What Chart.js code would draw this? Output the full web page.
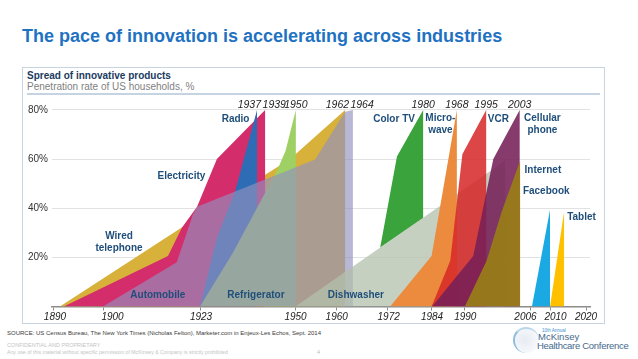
<!DOCTYPE html>
<html>
<head>
<meta charset="utf-8">
<script src="https://cdn.jsdelivr.net/npm/chart.js@4.4.1/dist/chart.umd.min.js"></script>
<style>
  body { margin: 0; width: 638px; height: 359px; position: relative; overflow: hidden; background: #fff;
         font-family: 'Liberation Sans', Arial, sans-serif; }
  .abs { position: absolute; white-space: nowrap; }
  #title { left: 22px; top: 27px; font-size: 18px; line-height: 18px; font-weight: bold; color: #1f72c2; }
  #frame { left: 22px; top: 67px; width: 581px; height: 255px; border: 1px solid #c8d4e0; }
  #head1 { left: 27px; top: 70.5px; font-size: 10px; line-height: 10px; font-weight: bold; color: #1b3b5f; }
  #head2 { left: 27px; top: 81.5px; font-size: 10px; line-height: 10px; color: #7f7f7f; }
  #rule { left: 27px; top: 93px; width: 573px; height: 2px; background: #c6d3e0; }
  #wrap { left: 22px; top: 95px; width: 582px; height: 228px; }
  #source { left: 7px; top: 330px; font-size: 6px; line-height: 6px; color: #3a3a3a; }
  #conf1 { left: 7px; top: 341.5px; font-size: 5.5px; line-height: 6px; color: #c4c4c4; }
  #conf2 { left: 7px; top: 348.5px; font-size: 5.2px; line-height: 6px; color: #c4c4c4; }
  #page { left: 317px; top: 348.5px; font-size: 5.5px; line-height: 6px; color: #bbb; }
  #globe { left: 513px; top: 327px; width: 24px; height: 24px; border-radius: 50%;
           border-left: 2px solid #8fbde0; border-top: 2px solid #b9d6ec;
           background: radial-gradient(circle at 40% 45%, #e6ecf3 0%, #f4f6f9 60%, #fff 100%); }
  #annual { left: 542px; top: 327.5px; font-size: 6px; line-height: 6px; color: #3b8fd2; transform: scale(0.75); transform-origin: left top; }
  #mck1 { left: 538px; top: 332px; font-size: 9.5px; line-height: 9.5px; color: #46698d; }
  #mck2 { left: 537px; top: 341px; font-size: 9.5px; line-height: 9.5px; color: #46698d; letter-spacing: -0.3px; }
</style>
</head>
<body>
<div class="abs" id="title">The pace of innovation is accelerating across industries</div>
<div class="abs" id="frame"></div>
<div class="abs" id="head1">Spread of innovative products</div>
<div class="abs" id="head2">Penetration rate of US households, %</div>
<div class="abs" id="rule"></div>
<div class="abs" id="wrap"><canvas id="adoption" width="582" height="228"></canvas></div>
<div class="abs" id="source">SOURCE: US Census Bureau, The New York Times (Nicholas Felton), Marketer.com in Enjeux-Les Echos, Sept. 2014</div>
<div class="abs" id="conf1">CONFIDENTIAL AND PROPRIETARY</div>
<div class="abs" id="conf2">Any use of this material without specific permission of McKinsey &amp; Company is strictly prohibited</div>
<div class="abs" id="page">4</div>
<div class="abs" id="globe"></div>
<div class="abs" id="annual">10th Annual</div>
<div class="abs" id="mck1">McKinsey</div>
<div class="abs" id="mck2">Healthcare Conference</div>

<script>
// axis ticks
const xTicks = [1890, 1900, 1923, 1950, 1960, 1972, 1984, 1990, 2006, 2010, 2020];
const yTicks = [20, 40, 60, 80];

// outline of each product, [year, % of US households], back to front
const telephone = [[1891.2, 0], [1918.3, 31.7], [1948.6, 60], [1962.1, 80], [1962.1, 0]];
const electricity = [[1892, 0], [1915.4, 20.6], [1918.7, 32], [1922.3, 40.6], [1927.8, 60], [1941.5, 80], [1941.5, 0]];
const radio = [[1923, 0], [1927.8, 28], [1933, 47], [1939.2, 80], [1939.2, 0]];
const refrigerator = [[1923, 0], [1932.4, 22], [1944.9, 55.3], [1947.3, 63.3], [1950.2, 80], [1950.2, 0]];
const automobile = [[1900, 0], [1917.5, 18], [1921.3, 37.3], [1922.3, 40.6], [1954.9, 59.8], [1962.1, 79.3], [1963.9, 80], [1963.9, 0]];
const colorTv = [[1970.2, 24], [1974.5, 61], [1981.8, 80], [1981.8, 36]];
const dishwasher = [[1950.1, 0], [1999.8, 59.3], [1999.8, 0]];
const microwave = [[1972.6, 0], [1984.1, 20.6], [1988.7, 80], [1988.7, 0]];
const vcr = [[1984.1, 0], [1987.5, 18.6], [1989.7, 62], [1995.3, 80], [1995.3, 0]];
const cellular = [[1984.2, 0], [1992.2, 20.6], [1997, 60], [2003.3, 80], [2003.3, 0]];
const internet = [[1990.2, 0], [1995.4, 18.6], [1999, 38.6], [2003.4, 59.3], [2003.4, 0]];
const facebook = [[2006.2, 0], [2010, 39.4], [2010, 0]];
const tablet = [[2010, 0], [2013.9, 38.6], [2013.9, 0]];

const productNames = ['Wired telephone', 'Electricity', 'Radio', 'Refrigerator', 'Automobile', 'Color TV',
  'Dishwasher', 'Microwave', 'VCR', 'Cellular phone', 'Internet', 'Facebook', 'Tablet'];
const productShapes = [telephone, electricity, radio, refrigerator, automobile, colorTv,
  dishwasher, microwave, vcr, cellular, internet, facebook, tablet];
// year printed above each peak
const yearAt80 = ['1962', '1939', '1937', '1950', '1964', '1980', '', '1968', '1995', '2003', '', '', ''];

// ---- styling / layout ----
const fills = ['#d8b13a', '#d42d6c', '#2e6db5', '#9fd063', 'rgba(148,145,192,0.65)', '#3aa33c',
  'rgba(178,192,172,0.75)', '#ec8b3e', 'rgba(214,40,40,0.86)', 'rgba(118,32,88,0.88)',
  'rgba(152,123,26,0.96)', '#1aa9e2', '#ffc000'];
const peakAlign = ['right', 'left', 'right', 'center', 'left', 'center', '', 'center', 'center', 'center', '', '', ''];
// label text and where it sits, in [year, %]
const nameLines = [['Wired', 'telephone'], ['Electricity'], ['Radio'], ['Refrigerator'], ['Automobile'], ['Color TV'],
  ['Dishwasher'], ['Micro-', 'wave'], ['VCR'], ['Cellular', 'phone'], ['Internet'], ['Facebook'], ['Tablet']];
const nameAt = [[1903.8, 26], [1918.6, 53.2], [1933.1, 76.2], [1938.9, 4.6], [1913, 4.6], [1973.7, 76.4],
  [1964.6, 4.6], [1985.7, 74], [1998.2, 76.4], [2008.4, 74], [2008.5, 55.6], [2009.2, 46.8], [2018.75, 36.2]];
// tick labels are not all centred on their ticks in the source (px)
const tickNudge = [1, 9.5, 1, 0.5, 0.7, 0.7, 1, 1.3, -5.5, 5.5, 0];

// the source axis is not evenly spaced: share of the axis width where each tick sits
const tickShare = [0.0037, 0.0948, 0.2751, 0.4517, 0.5279, 0.6245, 0.7045, 0.7658, 0.8903, 0.9257, 0.9926];

function yearToShare(v) {
  let i = 0;
  while (i < xTicks.length - 2 && v > xTicks[i + 1]) i++;
  return tickShare[i] + (v - xTicks[i]) * (tickShare[i + 1] - tickShare[i]) / (xTicks[i + 1] - xTicks[i]);
}
function shareToYear(s) {
  let i = 0;
  while (i < tickShare.length - 2 && s > tickShare[i + 1]) i++;
  return xTicks[i] + (s - tickShare[i]) * (xTicks[i + 1] - xTicks[i]) / (tickShare[i + 1] - tickShare[i]);
}

class UnevenYearScale extends Chart.LinearScale {
  getPixelForValue(v) { return this.getPixelForDecimal(yearToShare(v)); }
  getValueForPixel(p) { return shareToYear(this.getDecimalForPixel(p)); }
}
UnevenYearScale.id = 'unevenYear';
UnevenYearScale.defaults = {};
Chart.register(UnevenYearScale);

Chart.defaults.font.family = "'Liberation Sans', Arial, sans-serif";

// year labels over the peaks, product names, x tick labels
const annotate = {
  id: 'annotate',
  afterDatasetsDraw(chart) {
    const { ctx, chartArea } = chart;
    const x = chart.scales.x, y = chart.scales.y;
    ctx.save();
    ctx.fillStyle = '#1e1e1e';
    ctx.font = "italic 10.5px 'Liberation Sans', Arial, sans-serif";
    ctx.textBaseline = 'alphabetic';
    productShapes.forEach((pts, i) => {
      if (!yearAt80[i]) return;
      const peak = pts.reduce((a, b) => (b[1] >= a[1] ? b : a));
      const align = peakAlign[i];
      const nudge = { left: -2.5, right: 4, center: 0 }[align];
      ctx.textAlign = align;
      ctx.fillText(yearAt80[i], x.getPixelForValue(peak[0]) + nudge, y.getPixelForValue(80) - 1.5);
    });

    ctx.fillStyle = '#222';
    ctx.font = "italic 10px 'Liberation Sans', Arial, sans-serif";
    ctx.textAlign = 'center';
    ctx.textBaseline = 'top';
    xTicks.forEach((t, i) => ctx.fillText(String(t), x.getPixelForValue(t) + tickNudge[i], chartArea.bottom + 5.5));

    ctx.fillStyle = '#1f4e7a';
    ctx.font = "bold 10px 'Liberation Sans', Arial, sans-serif";
    ctx.textBaseline = 'middle';
    nameLines.forEach((lines, i) => {
      const cx = x.getPixelForValue(nameAt[i][0]);
      const cy = y.getPixelForValue(nameAt[i][1]);
      lines.forEach((t, k) => ctx.fillText(t, cx, cy + (k - (lines.length - 1) / 2) * 12));
    });
    ctx.restore();
  }
};

new Chart(document.getElementById('adoption'), {
  type: 'line',
  data: {
    datasets: productShapes.map((pts, i) => ({
      label: productNames[i],
      data: pts,
      fill: 'shape',
      backgroundColor: fills[i],
      borderColor: 'rgba(0,0,0,0)',
      borderWidth: 0,
      pointRadius: 0,
      tension: 0,
      order: productShapes.length - i
    }))
  },
  options: {
    responsive: false,
    devicePixelRatio: 1,
    animation: false,
    events: [],
    layout: { padding: { top: 6.5, right: 14, bottom: 0, left: 0 } },
    plugins: { legend: { display: false }, tooltip: { enabled: false } },
    scales: {
      x: {
        type: 'unevenYear',
        afterBuildTicks: s => { s.ticks = xTicks.map(v => ({ value: v })); },
        afterFit: s => { s.height = 16.5; },
        grid: { drawOnChartArea: false, drawTicks: true, tickLength: 4, color: '#8c8c8c' },
        border: { display: true, color: '#8c8c8c', width: 1.5 },
        ticks: { display: false, autoSkip: false, maxRotation: 0 }
      },
      y: {
        min: 0,
        max: 82,
        afterBuildTicks: s => { s.ticks = yTicks.map(v => ({ value: v })); },
        afterFit: s => { s.width = 30; },
        grid: { color: '#e2e2e2', lineWidth: 1, drawTicks: false },
        border: { display: false },
        ticks: { padding: 4, color: '#333', font: { size: 10 }, callback: v => v + '%' }
      }
    }
  },
  plugins: [annotate]
});
</script>
</body>
</html>
